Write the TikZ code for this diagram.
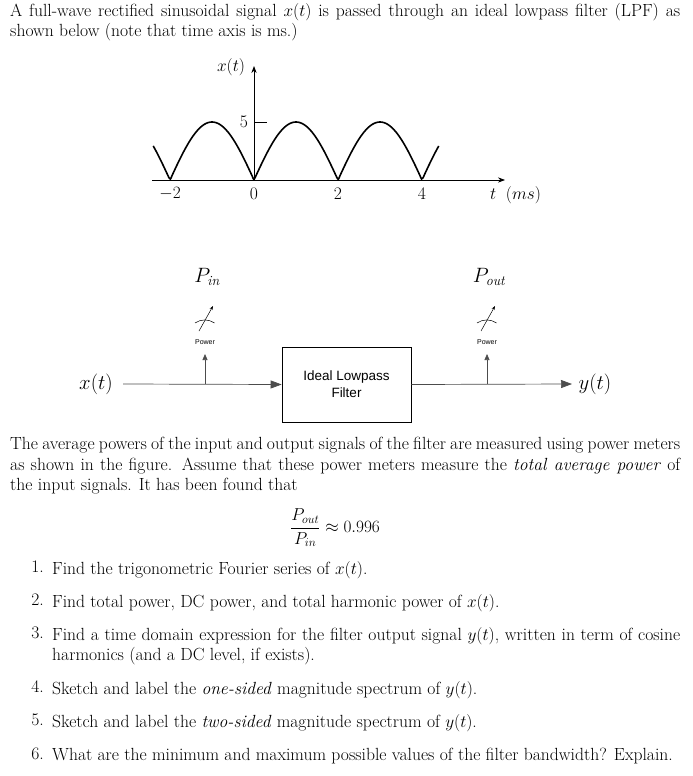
\documentclass[tikz,border=0pt]{standalone}
\usepackage{amsmath}
\usepackage{fontspec}
\newfontfamily\helv{Liberation Sans}
\usetikzlibrary{arrows.meta}
\begin{document}
\begin{tikzpicture}[x=1pt,y=-1pt,
  body/.style={inner sep=0pt,font=\fontsize{17.6}{20.6}\selectfont},
  para/.style={body,text width=670pt,align=justify,anchor=north west},
  item/.style={body,text width=628pt,align=justify,anchor=north west},
  num/.style={body,anchor=north east},
  sig/.style={draw=black!70,line width=0.7pt},
  tip/.style={-{Triangle[length=11pt,width=8pt]}}]
\useasboundingbox (0,0) rectangle (693,776);
\node[para] (intro) at (10,3) {A full-wave rectified sinusoidal signal $x(t)$ is passed through an ideal lowpass filter (LPF) as shown below (note that time axis is ms.)};
% plot
\coordinate (o) at (254,180);
\coordinate (xe) at (505,180);
\coordinate (ye) at (254,66);
\draw[line width=0.8pt,-{Stealth[length=7pt]}] (152,180) -- (xe);
\draw[line width=0.8pt,-{Stealth[length=7pt]}] (o) -- (ye);
\draw[line width=0.6pt] (254,122) -- (267,122);
\draw[line width=1.6pt,domain=-2.4:4.4,samples=200,smooth] plot ({254+42*\x},{180-58*abs(sin(90*\x))});
\node[body] (xt) at (231,67) {$x(t)$};
\node[body] (five) at (244,122) {5};
\node[body] (tm2) at (170,194) {$-2$};
\node[body] (t0) at (254,194) {0};
\node[body] (t2) at (338,194) {2};
\node[body] (t4) at (422,194) {4};
\node[body,anchor=west] (tlab) at (490,195) {$t\;\;(ms)$};
% block diagram
\node[draw,line width=0.7pt,minimum width=129pt,minimum height=75pt,inner sep=0pt,align=center,font=\helv\fontsize{13.5}{17}\selectfont] (lpf) at (346.5,384.5) {Ideal Lowpass\\Filter};
\node[body,font=\fontsize{20}{22}\selectfont] (x) at (96,384) {$x(t)$};
\node[body,font=\fontsize{20}{22}\selectfont] (y) at (595,384) {$y(t)$};
\coordinate (xs) at (123,384);
\coordinate (ys) at (572,384);
\draw[sig,tip] (xs) -- (lpf.west);
\draw[sig,tip] (lpf.east) -- (ys);
\foreach \n/\m/\lab in {a/205/in,b/487/out}{
  \coordinate (m\n) at (\m,384);
  \node[inner sep=0pt,font=\helv\fontsize{7}{8}\selectfont] (pw\n) at (\m,342) {Power};
  \draw[sig,-{Triangle[length=6pt,width=5pt]}] (m\n) -- (\m,354);
  \draw[line width=0.5pt] (\m-10,323) arc[start angle=125,end angle=55,radius=17pt];
  \draw[line width=0.5pt,-{Stealth[length=4pt]}] (\m-6,331) -- (\m+8,306);
  \node[body,font=\fontsize{20}{22}\selectfont] (P\n) at (\m+2,277) {$P_{\mathit{\lab}}$};
}
\node[para] (p2) at (10,437) {The average powers of the input and output signals of the filter are measured using power meters as shown in the figure. Assume that these power meters measure the \emph{total average power} of the input signals. It has been found that};
\node[body] (frac) at (335,528) {$\dfrac{P_{out}}{P_{in}}\approx 0.996$};
\node[num] (n1) at (44,561) {1.};
\node[item] (i1) at (52,561) {Find the trigonometric Fourier series of $x(t)$.};
\node[num] (n2) at (44,594) {2.};
\node[item] (i2) at (52,594) {Find total power, DC power, and total harmonic power of $x(t)$.};
\node[num] (n3) at (44,627) {3.};
\node[item] (i3) at (52,627) {Find a time domain expression for the filter output signal $y(t)$, written in term of cosine harmonics (and a DC level, if exists).};
\node[num] (n4) at (44,681) {4.};
\node[item] (i4) at (52,681) {Sketch and label the \emph{one-sided} magnitude spectrum of $y(t)$.};
\node[num] (n5) at (44,714) {5.};
\node[item] (i5) at (52,714) {Sketch and label the \emph{two-sided} magnitude spectrum of $y(t)$.};
\node[num] (n6) at (44,748) {6.};
\node[item] (i6) at (52,748) {What are the minimum and maximum possible values of the filter bandwidth? Explain.};
\end{tikzpicture}
\end{document}
